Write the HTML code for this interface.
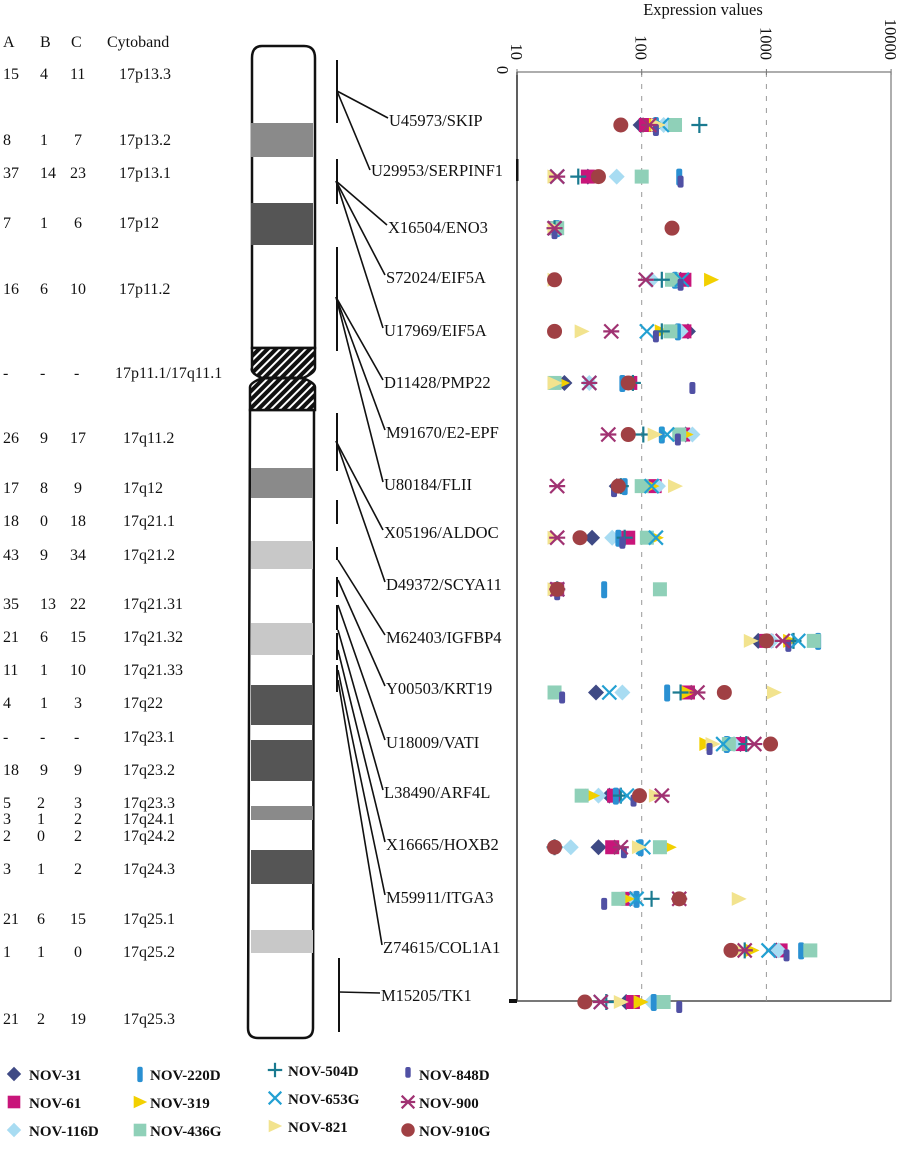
<!DOCTYPE html>
<html><head><meta charset="utf-8"><style>
body{margin:0;background:#fff;}
svg text{font-family:"Liberation Serif",serif;fill:#111;}
</style></head><body>
<svg id="fig" width="900" height="1145" viewBox="0 0 900 1145" xmlns="http://www.w3.org/2000/svg">
<defs>
<pattern id="hatch" patternUnits="userSpaceOnUse" width="6" height="6" patternTransform="rotate(45)">
<rect width="6" height="6" fill="#111"/><rect x="0" y="0" width="2" height="6" fill="#fff"/>
</pattern>
</defs>
<g id="table"></g>
<g id="chrom"></g>
<g id="links"></g>
<g id="plot"></g>
<g id="legend"></g>
</svg>
<script>
const genes=["U45973/SKIP","U29953/SERPINF1","X16504/ENO3","S72024/EIF5A","U17969/EIF5A","D11428/PMP22","M91670/E2-EPF","U80184/FLII","X05196/ALDOC","D49372/SCYA11","M62403/IGFBP4","Y00503/KRT19","U18009/VATI","L38490/ARF4L","X16665/HOXB2","M59911/ITGA3","Z74615/COL1A1","M15205/TK1"];
const seriesNames=["NOV-31","NOV-61","NOV-116D","NOV-220D","NOV-319","NOV-436G","NOV-504D","NOV-653G","NOV-821","NOV-848D","NOV-900","NOV-910G"];
const nov31=[98,37,20,205,235,24,225,63,40,21,860,43,620,55,45,81,1200,75];
const nov61=[108,37,20,220,220,81,215,127,78,21,1000,235,600,60,58,78,1300,85];
const nov116D=[150,63,20,120,205,38,255,135,58,21,1100,70,550,45,27,86,1250,120];
const nov220D=[130,200,21,185,195,70,145,73,65,50,2600,160,480,62,98,91,1900,125];
const nov319=[130,20,20,360,145,23,225,120,130,21,1550,235,330,40,165,76,760,98];
const nov436G=[185,100,21,175,170,20,200,100,110,140,2400,20,500,33,140,65,2250,150];
const nov504D=[290,31,20,145,145,85,103,68,73,21,1650,205,690,68,20,120,670,52];
const nov653G=[145,21,20,210,110,38,160,120,130,21,1800,55,450,76,103,91,1040,47];
const nov821=[135,20,20,20,33,20,127,185,20,20,750,1150,370,130,95,600,620,68];
const nov848D=[130,205,20,205,130,255,195,60,70,21,1500,23,350,86,72,50,1450,200];
const nov900=[115,21,20,108,57,38,54,21,21,21,1350,280,800,145,68,200,670,47];
const nov910G=[68,45,175,20,20,78,78,65,32,21,1000,460,1080,96,20,200,520,35];
const xTicks=[10,100,1000,10000];
const tableRows=[["15","4","11","17p13.3"],["8","1","7","17p13.2"],["37","14","23","17p13.1"],["7","1","6","17p12"],["16","6","10","17p11.2"],["-","-","-","17p11.1/17q11.1"],["26","9","17","17q11.2"],["17","8","9","17q12"],["18","0","18","17q21.1"],["43","9","34","17q21.2"],["35","13","22","17q21.31"],["21","6","15","17q21.32"],["11","1","10","17q21.33"],["4","1","3","17q22"],["-","-","-","17q23.1"],["18","9","9","17q23.2"],["5","2","3","17q23.3"],["3","1","2","17q24.1"],["2","0","2","17q24.2"],["3","1","2","17q24.3"],["21","6","15","17q25.1"],["1","1","0","17q25.2"],["21","2","19","17q25.3"]];
const tableY=[74,140,173,223,289,373,438,488,521,555,604,637,670,703,737,770,803,819,836,869,919,952,1019];

const NS="http://www.w3.org/2000/svg";
function mk(tag,attrs,parent){const e=document.createElementNS(NS,tag);for(const k in attrs)e.setAttribute(k,attrs[k]);if(parent)parent.appendChild(e);return e;}
function txt(s,x,y,size,parent,extra){const t=mk("text",Object.assign({x:x,y:y,"font-size":size},extra||{}),parent);t.textContent=s;return t;}

// ---- table ----
const tbl=document.getElementById("table");
[["A",3],["B",40],["C",71],["Cytoband",107]].forEach(h=>{const t=txt(h[0],h[1],47,16,tbl);});
tableRows.forEach((r,i)=>{const y=tableY[i]+5;const g=mk("g",{},tbl);
 txt(r[0],3,y,16,g);txt(r[1],i>=16?37:40,y,16,g);txt(r[2],r[2].length>1?70:74,y,16,g);txt(r[3],i==5?115:(i<5?119:123),y,16,g);});

// ---- chromosome ----
const ch=document.getElementById("chrom");
const bands=[[123,157,"#8a8a8a"],[203,245,"#555"],[468,498,"#8a8a8a"],[541,569,"#c8c8c8"],[623,655,"#c8c8c8"],[685,725,"#555"],[740,781,"#555"],[806,820,"#8a8a8a"],[850,884,"#555"],[930,953,"#c8c8c8"]];
mk("path",{d:"M252,58 Q252,46 262,46 L304,46 Q315,46 315,58 L315,348 L252,348 Z",fill:"#fff",stroke:"#111","stroke-width":2.5},ch);
mk("path",{d:"M250,410 L314,410 L313,1028 Q313,1038 303,1038 L258,1038 Q248,1038 248,1028 Z",fill:"#fff",stroke:"#111","stroke-width":2.5},ch);
bands.forEach(b=>{const r=mk("rect",{x:251,y:b[0],width:62,height:b[1]-b[0],fill:b[2]},ch);});
mk("path",{d:"M252,348 L315,348 L315,368 Q315,373 303,378 Q315,383 315,387 L315,410 L250,410 L250,387 Q250,383 262,378 Q250,373 252,368 Z",fill:"url(#hatch)",stroke:"#111","stroke-width":2.5},ch);
mk("line",{x1:262,y1:378,x2:303,y2:378,stroke:"#111","stroke-width":3},ch);

// ---- link lines & labels ----
const lk=document.getElementById("links");
[[60,123],[159,204],[247,351],[413,471],[500,524],[547,560],[577,597],[605,630],[633,660],[665,692]].forEach(s=>mk("line",{x1:337,y1:s[0],x2:337,y2:s[1],stroke:"#111","stroke-width":2},lk));
mk("line",{x1:339,y1:958,x2:339,y2:1032,stroke:"#111","stroke-width":2},lk);
const src=[[337,91],[337,91],[336,181],[336,181],[336,181],[336,297],[336,297],[336,297],[336,441],[336,441],[338,560],[338,580],[338,605],[338,630],[338,650],[338,670],[338,680],[339,992]];
const ends=[[388,118],[370,170],[387,225],[385,275],[383,328],[383,380],[385,430],[383,482],[383,530],[385,582],[385,635],[385,686],[385,740],[383,790],[385,842],[385,895],[382,945],[380,993]];
genes.forEach((g,i)=>{mk("line",{x1:src[i][0],y1:src[i][1],x2:ends[i][0],y2:ends[i][1],stroke:"#111","stroke-width":1.6},lk);
 const t=txt(g,ends[i][0]+1,i==1?176:ends[i][1]+8,16.5,lk);});

// ---- plot ----
const pl=document.getElementById("plot");
const X0=517,XD=124.7,PT=72,PB=1001,PR=891;
function xs(v){return X0+XD*(Math.log10(v)-1);}
function ys(i){return 125+i*(1002-125)/(genes.length-1);}
mk("rect",{x:X0,y:PT,width:PR-X0,height:PB-PT,fill:"none",stroke:"#777","stroke-width":1.2},pl);
mk("line",{x1:X0,y1:PT,x2:X0,y2:PB,stroke:"#333","stroke-width":1.5},pl);
mk("line",{x1:X0,y1:PB,x2:PR,y2:PB,stroke:"#555","stroke-width":1.5},pl);
mk("rect",{x:509,y:999,width:8,height:4,fill:"#111"},pl);
xTicks.forEach(v=>{const x=xs(v);
 if(v>10&&v<10000){const l=mk("line",{x1:x,y1:PT,x2:x,y2:PB,stroke:"#999","stroke-width":1,"stroke-dasharray":"5,7"},pl);}
 mk("line",{x1:x,y1:PT-3,x2:x,y2:PT+3,stroke:"#777"},pl);
 const t=txt(String(v),0,0,16.5,pl,{transform:`translate(${x-6},${60}) rotate(90)`,"text-anchor":"end"});});
const z=txt("0",0,0,16.5,pl,{transform:"translate(497,70) rotate(90)","text-anchor":"middle"});
const at=txt("Expression values",703,15,16.5,pl,{"text-anchor":"middle"});
mk("rect",{x:516,y:159,width:2.5,height:22,fill:"#111"},pl);

const colors=["#3f4a85","#c8157a","#a8dcf2","#2a90d2","#f2d000","#8fd0b8","#1a7a90","#22a0d2","#f2e38e","#5050a4","#a03272","#a04044"];
const shapes=["diamond","square","diamond","bar","tri","square","plus","x","tri","smallbar","star","circle"];
const allData=[nov31,nov61,nov116D,nov220D,nov319,nov436G,nov504D,nov653G,nov821,nov848D,nov900,nov910G];
function marker(shape,color,x,y,p,s){s=s||1;
 switch(shape){
 case "diamond":return mk("polygon",{points:`${x},${y-8*s} ${x+8*s},${y} ${x},${y+8*s} ${x-8*s},${y}`,fill:color},p);
 case "square":return mk("rect",{x:x-7*s,y:y-7*s,width:14*s,height:14*s,fill:color},p);
 case "bar":return mk("rect",{x:x-3*s,y:y-8*s,width:6*s,height:17*s,rx:2,fill:color},p);
 case "smallbar":return mk("rect",{x:x-3*s,y:y-1,width:6*s,height:12*s,rx:2,fill:color},p);
 case "tri":return mk("polygon",{points:`${x-7*s},${y-7*s} ${x+8*s},${y} ${x-7*s},${y+7*s}`,fill:color},p);
 case "plus":{const g=mk("g",{stroke:color,"stroke-width":2.2},p);mk("line",{x1:x-8*s,y1:y,x2:x+8*s,y2:y},g);mk("line",{x1:x,y1:y-8*s,x2:x,y2:y+8*s},g);return g;}
 case "x":{const g=mk("g",{stroke:color,"stroke-width":2.2},p);mk("line",{x1:x-7*s,y1:y-7*s,x2:x+7*s,y2:y+7*s},g);mk("line",{x1:x-7*s,y1:y+7*s,x2:x+7*s,y2:y-7*s},g);return g;}
 case "star":{const g=mk("g",{stroke:color,"stroke-width":2.2},p);mk("line",{x1:x-7*s,y1:y-7*s,x2:x+7*s,y2:y+7*s},g);mk("line",{x1:x-7*s,y1:y+7*s,x2:x+7*s,y2:y-7*s},g);mk("line",{x1:x-8*s,y1:y,x2:x+8*s,y2:y},g);return g;}
 case "circle":return mk("circle",{cx:x,cy:y,r:7.5*s,fill:color},p);
 }}
allData.forEach((arr,si)=>{const g=mk("g",{},pl);
 arr.forEach((v,i)=>{const m=marker(shapes[si],colors[si],xs(v),ys(i),g);});});

// ---- legend ----
const lg=document.getElementById("legend");
const legMX=[14,140,275,408],legTX=[29,150,288,419],legY=[1074,1102,1130];
seriesNames.forEach((n,i)=>{const c=Math.floor(i/3),r=i%3;const y=legY[r]-(c==2?4:0);
 const g=mk("g",{},lg);
 marker(shapes[i],colors[i],legMX[c],y-(shapes[i]=="smallbar"?6:0),g,0.9);
 txt(n,legTX[c],y+6,15,g,{"font-weight":"bold"});});
</script>
</body></html>
